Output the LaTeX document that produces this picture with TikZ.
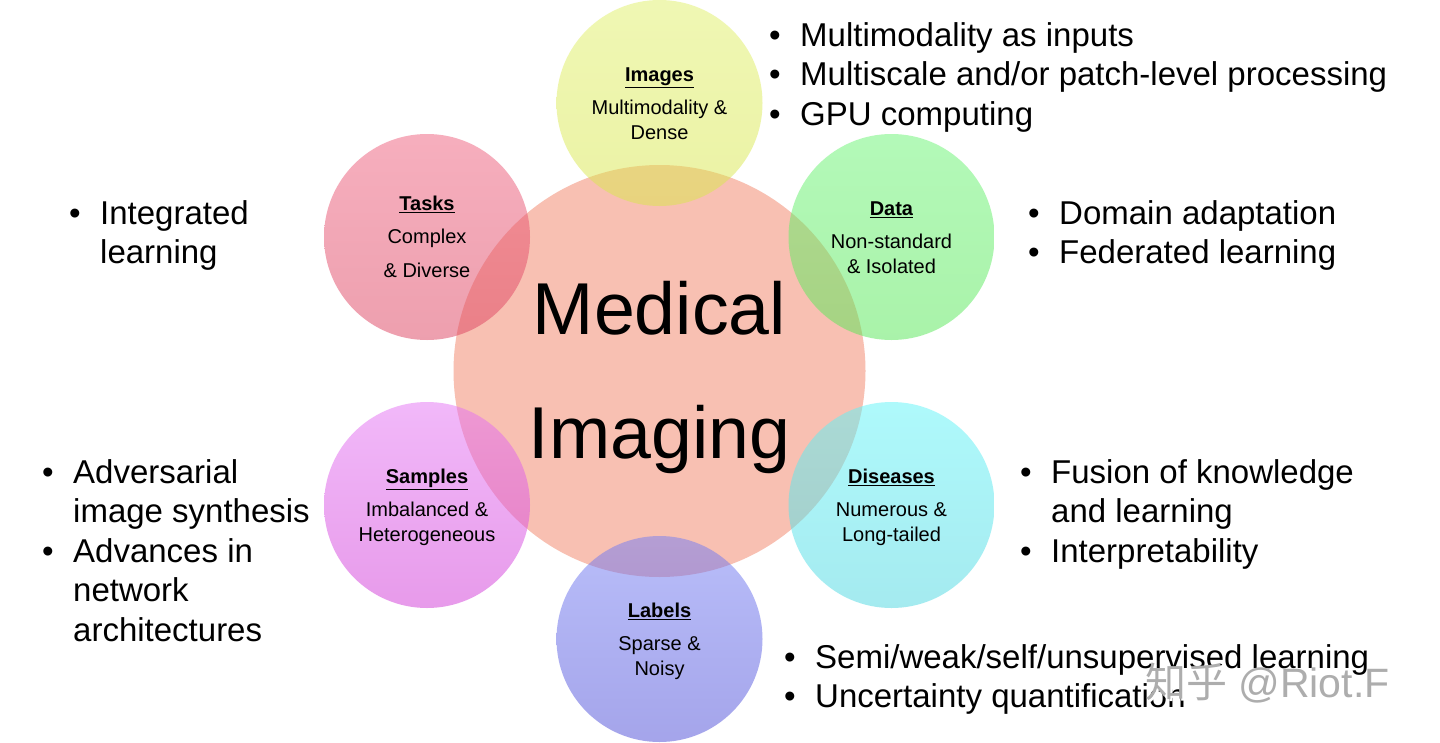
\documentclass[tikz,border=0pt]{standalone}
\usepackage{fontspec}
\setmainfont{Liberation Sans}
\newfontfamily\cjkwm{Noto Sans CJK SC}
\definecolor{centrefill}{RGB}{248,192,178}
\definecolor{imgT}{RGB}{225,241,105}\definecolor{imgB}{RGB}{217,231,75}
\definecolor{datT}{RGB}{105,245,115}\definecolor{datB}{RGB}{85,231,85}
\definecolor{tskT}{RGB}{239,95,125}\definecolor{tskB}{RGB}{221,65,95}
\definecolor{smpT}{RGB}{229,115,245}\definecolor{smpB}{RGB}{209,55,215}
\definecolor{disT}{RGB}{95,245,249}\definecolor{disB}{RGB}{75,215,225}
\definecolor{labT}{RGB}{115,125,245}\definecolor{labB}{RGB}{75,75,215}
\newcommand{\blt}{\makebox[31pt][l]{•}}
\newcommand{\ind}{\hspace*{31pt}}
\newcommand{\fl}{\rule{0pt}{30pt}}
\newcommand{\ft}{\rule{0pt}{20pt}}
\tikzset{
  x=1pt,y=-1pt,
  petal/.style={circle,minimum size=206pt,inner sep=0pt,fill opacity=.5,shading=axis,shading angle=0},
  hub/.style={circle,minimum size=412pt,inner sep=0pt,fill=centrefill},
  listtext/.style={anchor=north west,inner sep=0pt,align=left,font=\fontsize{33}{39.5}\selectfont},
  pettext/.style={anchor=north,inner sep=0pt,align=center,font=\fontsize{20}{25}\selectfont},
  hubtext/.style={anchor=north,inner sep=0pt,align=center,font=\fontsize{73.5}{124}\selectfont},
}
\begin{document}
\begin{tikzpicture}
\useasboundingbox (0,0) rectangle (1440,742);
\fill[white] (0,0) rectangle (1440,742);
\node[hub] (hub) at (659.5,371) {};
\node[petal,top color=imgT,bottom color=imgB] (images) at (659.5,103) {};
\node[petal,top color=datT,bottom color=datB] (data) at (891.5,237) {};
\node[petal,top color=tskT,bottom color=tskB] (tasks) at (427,237) {};
\node[petal,top color=smpT,bottom color=smpB] (samples) at (427,505) {};
\node[petal,top color=disT,bottom color=disB] (diseases) at (891.5,505) {};
\node[petal,top color=labT,bottom color=labB] (labels) at (659.5,639) {};

\node[hubtext] (hubLabel) at (659.5,273) {\rule{0pt}{61pt}Medical\\Imaging};

\node[pettext] (imagesLabel) at (659.5,61) {\ft\underline{\textbf{Images}}\\[8.5pt]Multimodality \&\\Dense};
\node[pettext] (dataLabel) at (891.5,195) {\ft\underline{\textbf{Data}}\\[8.5pt]Non-standard\\\& Isolated};
\node[pettext] (tasksLabel) at (427,190) {\ft\underline{\textbf{Tasks}}\\[8.5pt]Complex\\[9pt]\& Diverse};
\node[pettext] (samplesLabel) at (427,463) {\ft\underline{\textbf{Samples}}\\[8.5pt]Imbalanced \&\\Heterogeneous};
\node[pettext] (diseasesLabel) at (891.5,463) {\ft\underline{\textbf{Diseases}}\\[8.5pt]Numerous \&\\Long-tailed};
\node[pettext] (labelsLabel) at (659.5,597) {\ft\underline{\textbf{Labels}}\\[8.5pt]Sparse \&\\Noisy};

\node[listtext] (imagesList) at (769,16) {\fl\blt Multimodality as inputs\\\blt Multiscale and/or patch-level processing\\\blt GPU computing};
\node[listtext] (dataList) at (1028,194) {\fl\blt Domain adaptation\\\blt Federated learning};
\node[listtext] (tasksList) at (69,194) {\fl\blt Integrated\\\ind learning};
\node[listtext] (diseasesList) at (1020,453) {\fl\blt Fusion of knowledge\\\ind and learning\\\blt Interpretability};
\node[listtext] (samplesList) at (42,453) {\fl\blt Adversarial\\\ind image synthesis\\\blt Advances in\\\ind network\\\ind architectures};
\node[listtext] (labelsList) at (784,638) {\fl\blt Semi/weak/self/unsupervised learning\\\blt Uncertainty quantification};

\node[anchor=base west,inner sep=0pt,font=\fontsize{41}{41}\selectfont,text=white] (wmShadow) at (1147,699) {{\cjkwm 知乎} @Riot.F};
\node[anchor=base west,inner sep=0pt,font=\fontsize{41}{41}\selectfont,text=black!32] (watermark) at (1145,697) {{\cjkwm 知乎} @Riot.F};
\end{tikzpicture}
\end{document}
